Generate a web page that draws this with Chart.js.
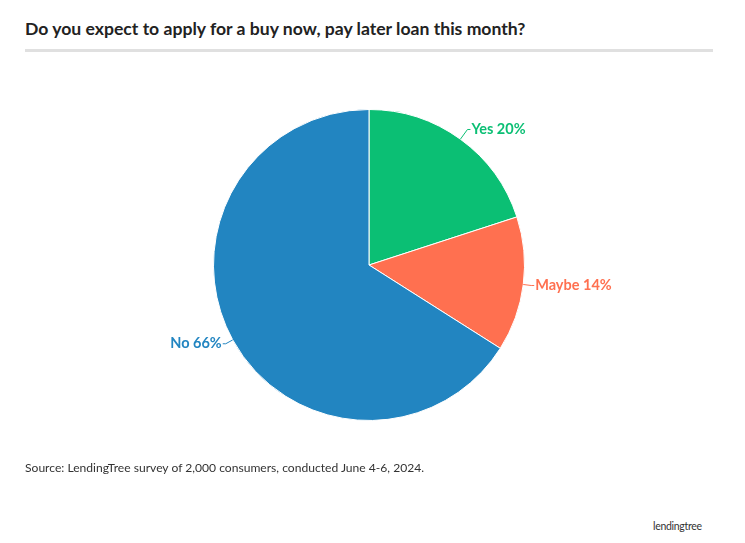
<!DOCTYPE html>
<html><head><meta charset="utf-8">
<script src="https://cdn.jsdelivr.net/npm/chart.js@4"></script>
<style>
body{margin:0;width:745px;height:543px;background:#fff;font-family:Lato,sans-serif;position:relative;overflow:hidden}
#t{position:absolute;left:25px;top:18px;font-size:17.6px;font-weight:bold;color:#222}
#rule{position:absolute;left:25px;top:49px;width:688px;height:3px;background:#e0e0e0}
#s{position:absolute;left:25px;top:460px;font-size:12.1px;color:#333}
#logo{position:absolute;left:653px;top:520px;font-size:10.5px;color:#333;letter-spacing:-0.3px}
#wrap{position:absolute;left:0;top:60px;width:745px;height:410px}
</style></head><body>
<div id="t">Do you expect to apply for a buy now, pay later loan this month?</div>
<div id="rule"></div>
<div id="wrap"><canvas id="c"></canvas></div>
<div id="s">Source: LendingTree survey of 2,000 consumers, conducted June 4-6, 2024.</div>
<div id="logo">lendingtree</div>
<script>
const categories=["Yes","Maybe","No"];
const values=[20,14,66];
const colors=["#0bbf74","#ff7050","#2285c1"];
const labelsPlugin={id:'lbl',afterDraw(chart){
 const ctx=chart.ctx;const meta=chart.getDatasetMeta(0);
 ctx.save();ctx.font='bold 14.5px Lato';ctx.textBaseline='middle';
 meta.data.forEach((a,i)=>{
  const ang=(a.startAngle+a.endAngle)/2;const r=a.outerRadius;
  const ex=a.x+Math.cos(ang)*r,ey=a.y+Math.sin(ang)*r;
  const right=Math.cos(ang)>=0;
  const d=i===0?12:8;
  const lx=a.x+Math.cos(ang)*(r+d),ly=a.y+Math.sin(ang)*(r+d);
  const tx=lx+(right?3:-3);
  ctx.strokeStyle=colors[i];ctx.lineWidth=1;ctx.beginPath();ctx.moveTo(ex,ey);ctx.lineTo(lx,ly);ctx.lineTo(tx,ly);ctx.stroke();
  ctx.fillStyle=colors[i];ctx.textAlign=right?'left':'right';
  ctx.fillText(categories[i]+' '+values[i]+'%',tx+(right?1:-1),ly);
 });ctx.restore();}};
new Chart(document.getElementById('c'),{type:'pie',
 data:{labels:categories,datasets:[{data:values,backgroundColor:colors,borderColor:'#fff',borderWidth:1}]},
 options:{responsive:true,maintainAspectRatio:false,animation:false,
  layout:{padding:{top:49,bottom:49,left:45,right:52}},
  plugins:{legend:{display:false},tooltip:{enabled:false}}},
 plugins:[labelsPlugin]});
</script></body></html>
